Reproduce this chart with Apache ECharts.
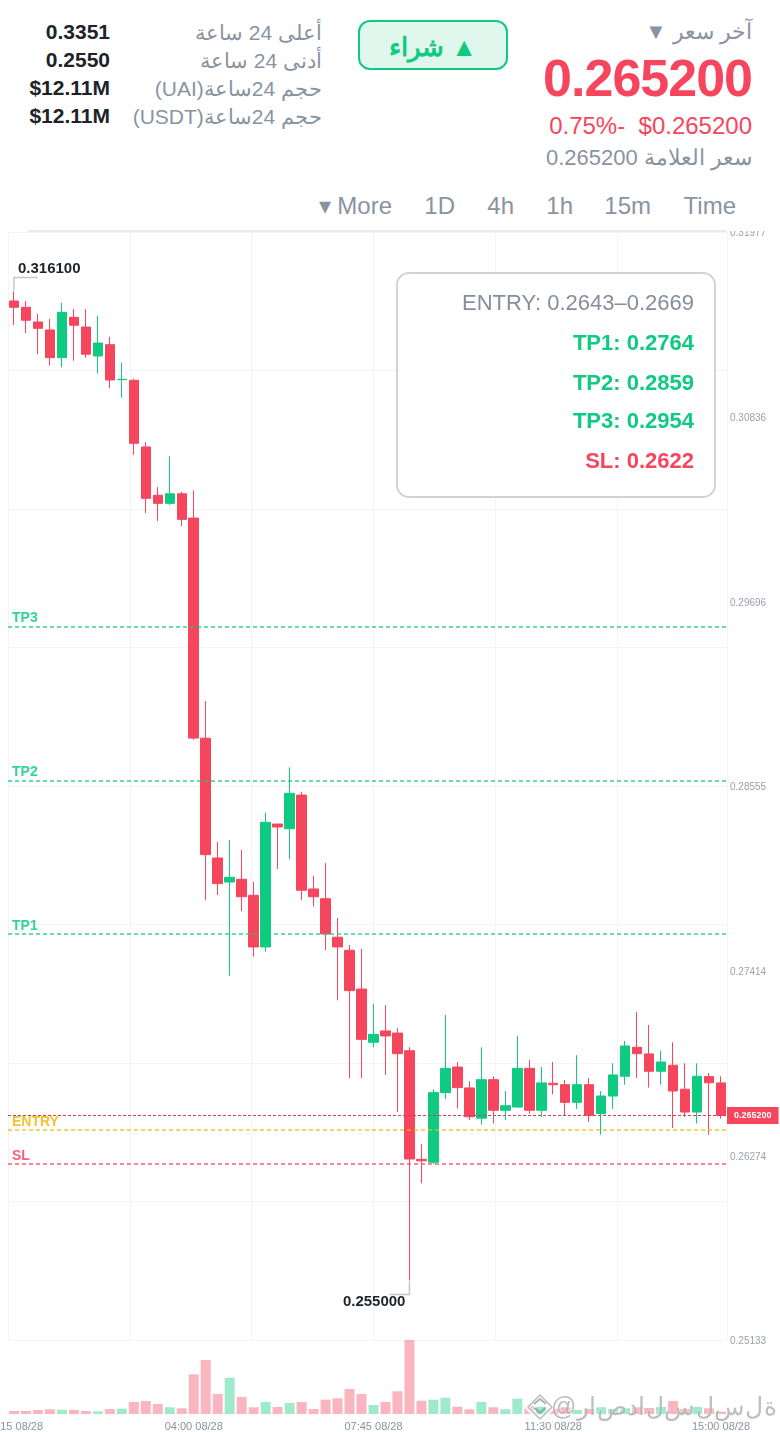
<!DOCTYPE html>
<html>
<head>
<meta charset="utf-8">
<script src="https://cdn.jsdelivr.net/npm/echarts@6/dist/echarts.min.js"></script>
<style>
html,body{margin:0;padding:0;background:#fff;width:780px;height:1432px;overflow:hidden;font-family:"Liberation Sans",Arial,sans-serif}
#chart{position:absolute;left:0;top:0;width:780px;height:1432px}
#head{position:absolute;left:0;top:0;width:780px;height:231px;background:#fff;z-index:2}
#head div{position:absolute;white-space:nowrap;line-height:1}
.r{direction:rtl;text-align:right}
.g{color:#8a93a0}
.lab{font-size:21px;right:458px}
.val{font-size:21px;font-weight:bold;color:#1e2329;right:670px}
.tab{font-size:24px;color:#8a93a0;top:194px}
#wm{position:absolute;z-index:3;left:551px;top:1391px;width:226px;height:30px;line-height:30px;display:flex;justify-content:space-between;direction:ltr;font-size:25px;color:rgba(125,125,130,.5);text-shadow:0 0 2px rgba(255,255,255,.9)}
#logo{position:absolute;z-index:3;left:524px;top:1391px}
</style>
</head>
<body>
<div id="chart"></div>
<div id="head">
  <div class="r g" style="right:28px;top:21px;font-size:22px">آخر سعر ▼</div>
  <div style="right:28px;top:52px;font-size:52px;font-weight:bold;letter-spacing:-1px;color:#f6465d">0.265200</div>
  <div class="r" style="right:28px;top:114px;font-size:24px;color:#f6465d">$0.265200&nbsp;&nbsp;-0.75%</div>
  <div class="r g" style="right:28px;top:147px;font-size:22px">سعر العلامة 0.265200</div>
  <div style="left:358px;top:20px;width:146px;height:46px;border:2px solid #0ecb81;border-radius:12px;background:#e0f7ed;color:#0ecb81;font-size:26px;font-weight:bold;text-align:center;line-height:50px;direction:rtl">▲ شراء</div>
  <div class="r g lab" style="top:22px">أعلى 24 ساعة</div>
  <div class="r g lab" style="top:50px">أدنى 24 ساعة</div>
  <div class="r g lab" style="top:78px">حجم 24ساعة(UAI)</div>
  <div class="r g lab" style="top:106px">حجم 24ساعة(USDT)</div>
  <div class="val" style="top:21px">0.3351</div>
  <div class="val" style="top:49px">0.2550</div>
  <div class="val" style="top:77px">$12.11M</div>
  <div class="val" style="top:105px">$12.11M</div>
  <div class="tab" style="right:44px">Time</div>
  <div class="tab" style="right:129px">15m</div>
  <div class="tab" style="right:207px">1h</div>
  <div class="tab" style="right:266px">4h</div>
  <div class="tab" style="right:325px">1D</div>
  <div class="tab" style="right:388px">▾ More</div>
  <div style="left:28px;top:230px;width:699px;height:2px;background:#e8eaee"></div>
</div>
<svg id="logo" width="32" height="32" viewBox="0 0 32 32">
  <g fill="none" stroke-linejoin="round">
    <path d="M16 3 L29 16 L16 29 L3 16 Z" stroke="#fff" stroke-width="5" opacity=".85"/>
    <path d="M16 4 L28 16 L16 28 L4 16 Z" stroke="#b9bcc2" stroke-width="1.6"/>
    <path d="M10 13 L16 8 L22 13" stroke="#aeb2b8" stroke-width="2"/>
    <path d="M11 17 L16 22 L21 17" stroke="#7fb79f" stroke-width="2.4"/>
  </g>
</svg>
<div id="wm"></div>
<script>
var times = ["00:15","00:30","00:45","01:00","01:15","01:30","01:45","02:00","02:15","02:30","02:45","03:00","03:15","03:30","03:45","04:00","04:15","04:30","04:45","05:00","05:15","05:30","05:45","06:00","06:15","06:30","06:45","07:00","07:15","07:30","07:45","08:00","08:15","08:30","08:45","09:00","09:15","09:30","09:45","10:00","10:15","10:30","10:45","11:00","11:15","11:30","11:45","12:00","12:15","12:30","12:45","13:00","13:15","13:30","13:45","14:00","14:15","14:30","14:45","15:00"];
var shownTimes = ["00:15","04:00","07:45","11:30","15:00"];
var opens = [.31551,.31512,.31421,.31372,.31201,.31450,.31390,.31211,.31281,.31065,.31061,.30649,.30351,.30301,.30360,.30210,.28850,.28110,.27962,.27979,.27880,.27561,.28320,.28291,.28499,.27919,.27859,.27621,.27540,.27301,.26972,.27042,.27029,.26920,.26249,.26231,.26661,.26819,.26690,.26503,.26741,.26552,.26572,.26811,.26552,.26719,.26710,.26601,.26710,.26531,.26640,.26762,.26941,.26900,.26793,.26830,.26682,.26541,.26760,.26721];
var closes = [.31512,.31432,.31382,.31201,.31481,.31401,.31222,.31291,.31063,.31067,.30672,.30332,.30301,.30360,.30202,.28851,.28131,.27952,.27991,.27871,.27561,.28331,.28302,.28510,.27911,.27871,.27641,.27561,.27291,.26990,.27021,.27011,.26902,.26251,.26240,.26661,.26811,.26692,.26512,.26741,.26552,.26580,.26811,.26552,.26721,.26710,.26601,.26710,.26521,.26640,.26770,.26949,.26902,.26793,.26850,.26671,.26541,.26762,.26722,.26520];
var lows = [.31403,.31353,.31222,.31151,.31141,.31182,.31201,.31102,.31011,.30953,.30601,.30241,.30192,.30291,.30161,.28841,.27851,.27882,.27383,.27781,.27501,.27532,.28042,.28102,.27851,.27810,.27542,.27231,.26751,.26751,.26941,.26770,.26541,.25500,.26101,.26220,.26622,.26562,.26492,.26463,.26471,.26492,.26570,.26531,.26512,.26651,.26521,.26560,.26481,.26401,.26560,.26710,.26751,.26692,.26710,.26443,.26512,.26471,.26401,.26500];
var highs = [.31610,.31551,.31470,.31440,.31540,.31501,.31501,.31460,.31330,.31170,.31071,.30680,.30402,.30591,.30371,.30381,.29080,.28209,.28222,.28160,.27962,.28390,.28320,.28670,.28520,.27999,.28079,.27740,.27573,.27550,.27210,.27201,.27060,.26941,.26342,.26682,.27141,.26850,.26731,.26941,.26762,.26671,.27011,.26863,.26819,.26850,.26739,.26892,.26751,.26671,.26842,.26980,.27159,.27079,.26920,.26972,.26842,.26842,.26782,.26762];
var volumes = [3,3,4,4.7,4.3,4,3,2.7,5,5.3,12,13,10,6.7,5.7,39.7,54,20,36.3,17,6.7,12,7,11,12,5,14.3,15.7,25,20,9,12,22.7,74,13.3,14.3,16.3,7.3,4.7,12,6.7,4.7,15.3,8,7.3,4.7,6.7,4,5,6.7,5,5.7,6.7,6,7,13,5,7,5.7,2.3];
var priceTicks = [0.25133,0.26274,0.27414,0.28555,0.29696,0.30836,0.31977];
var levelNames = ["TP3","TP2","TP1","ENTRY","SL"];
var levelValues = [0.2954,0.2859,0.2764,0.2643,0.2622];
var levelColors = ["#0ecb81","#0ecb81","#0ecb81","#f0b90b","#f6465d"];
var lastPrice = 0.2652;
var infoLines = ["ENTRY: 0.2643–0.2669","TP1: 0.2764","TP2: 0.2859","TP3: 0.2954","SL: 0.2622"];
var infoColors = ["#848e9c","#0ecb81","#0ecb81","#0ecb81","#f6465d"];
var highLabel = "0.316100", lowLabel = "0.255000";
var watermarkGlyphs = ["@","ر","ا","ص","د","ا","ل","س","ل","س","ل","ة"];

watermarkGlyphs.forEach(function(c){var s=document.createElement("span");s.textContent=c;document.getElementById("wm").appendChild(s);});

var FONT = '"Liberation Sans",Arial,sans-serif';
var UP = "#0ecb81", DOWN = "#f6465d", GRID = "#f3f4f6";
var chart = echarts.init(document.getElementById("chart"), null, {renderer:"canvas", width:780, height:1432});
var ohlc = opens.map(function(o,i){return [o,closes[i],lows[i],highs[i]];});
var levelData = levelNames.map(function(n,i){
  return {yAxis:levelValues[i], name:n,
    lineStyle:{color:levelColors[i],type:[4,3],width:1.5,opacity:.85},
    label:{show:true,formatter:n,position:"insideStartTop",color:levelColors[i],fontFamily:FONT,fontSize:14,fontWeight:"bold",distance:[4,1]}};
});
levelData.push({yAxis:lastPrice,name:"last",lineStyle:{color:"#d83a4f",type:[3,2],width:1,opacity:1},
  label:{show:true,position:"end",distance:0,formatter:function(p){return p.value.toFixed(6);},color:"#fff",fontFamily:FONT,fontSize:9,fontWeight:"bold",backgroundColor:DOWN,padding:[4,7]}});

chart.setOption({
  animation:false,
  backgroundColor:"#fff",
  grid:[
    {left:8,right:53,top:232,height:1108,show:false,outerBoundsMode:"none"},
    {left:8,right:53,top:1340,height:74,show:false,outerBoundsMode:"none"}
  ],
  xAxis:[
    {type:"category",gridIndex:0,data:times,boundaryGap:true,axisLine:{show:false},axisTick:{show:false},axisLabel:{show:false},splitLine:{show:false}},
    {type:"category",gridIndex:1,data:times,boundaryGap:true,axisLine:{show:false},axisTick:{show:false},splitLine:{show:false},
      axisLabel:{color:"#8a93a0",fontFamily:FONT,fontSize:11,margin:7,hideOverlap:false,showMinLabel:true,showMaxLabel:true,
        interval:function(i,v){return shownTimes.indexOf(v)>=0;},
        formatter:function(v){return v+" 08/28";}}},
    {type:"value",gridIndex:0,min:0,max:5.9,interval:1,position:"top",axisLine:{show:false},axisTick:{show:false},axisLabel:{show:false},splitLine:{show:true,lineStyle:{color:GRID,width:1}}}
  ],
  yAxis:[
    {type:"value",gridIndex:0,min:priceTicks[0],max:priceTicks[priceTicks.length-1],position:"right",axisLine:{show:false},axisTick:{show:false},splitLine:{show:false},
      axisLabel:{customValues:priceTicks,color:"#9aa1ac",fontFamily:FONT,fontSize:10,margin:3,lineHeight:13,verticalAlign:"top",padding:[-5,0,0,0],formatter:function(v){return v.toFixed(5);}}},
    {type:"value",gridIndex:1,min:0,max:74,axisLine:{show:false},axisTick:{show:false},axisLabel:{show:false},splitLine:{show:false}},
    {type:"value",gridIndex:0,min:0,max:8,interval:1,position:"left",axisLine:{show:false},axisTick:{show:false},axisLabel:{show:false},splitLine:{show:true,lineStyle:{color:GRID,width:1}}}
  ],
  series:[
    {type:"candlestick",xAxisIndex:0,yAxisIndex:0,data:ohlc,barWidth:10,
      itemStyle:{color:UP,color0:DOWN,borderColor:UP,borderColor0:DOWN,borderWidth:1},
      markLine:{silent:true,symbol:"none",animation:false,precision:6,data:levelData}},
    {type:"bar",xAxisIndex:1,yAxisIndex:1,barWidth:10,
      data:volumes.map(function(v,i){return {value:v,itemStyle:{color:closes[i]>=opens[i]?"rgba(14,203,129,.4)":"rgba(246,70,93,.4)"}};})}
  ]
});

var hi = chart.convertToPixel({seriesIndex:0},[0,highs[0]]);
var lo = chart.convertToPixel({seriesIndex:0},[33,lows[33]]);
var LEAD = "#c3c7cd";
var graphics = [
  {type:"polyline",z:50,shape:{points:[[hi[0],hi[1]-1],[hi[0],hi[1]-14],[hi[0]+24,hi[1]-14]]},style:{stroke:LEAD,lineWidth:1.5,fill:null}},
  {type:"text",z:50,x:hi[0]+4,y:hi[1]-23,style:{text:highLabel,font:"bold 15px "+FONT,fill:"#1e2329",textAlign:"left",textVerticalAlign:"middle"}},
  {type:"polyline",z:50,shape:{points:[[lo[0],lo[1]+1],[lo[0],lo[1]+14],[lo[0]-20,lo[1]+14]]},style:{stroke:LEAD,lineWidth:1.5,fill:null}},
  {type:"text",z:50,x:lo[0]-4,y:lo[1]+21,style:{text:lowLabel,font:"bold 15px "+FONT,fill:"#1e2329",textAlign:"right",textVerticalAlign:"middle"}},
  {type:"rect",z:60,shape:{x:397,y:273,width:318,height:224,r:12},style:{fill:"#fff",stroke:"#d0d4da",lineWidth:2}}
];
var infoY = [304,344,384,422,462];
infoLines.forEach(function(t,i){
  graphics.push({type:"text",z:61,x:694,y:infoY[i],style:{text:t,font:(i?"bold ":"")+"22px "+FONT,fill:infoColors[i],textAlign:"right",textVerticalAlign:"middle"}});
});
chart.setOption({graphic:graphics});
</script>
</body>
</html>
